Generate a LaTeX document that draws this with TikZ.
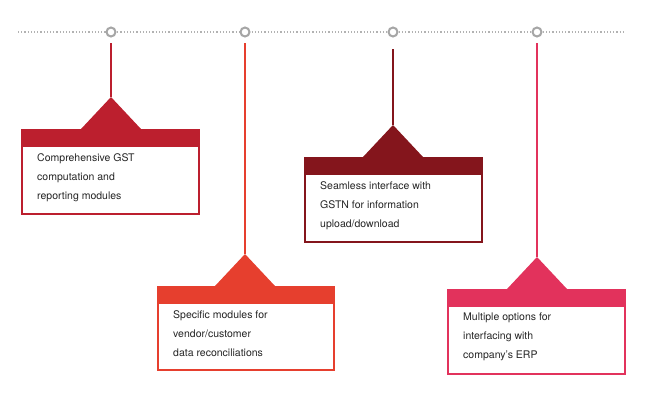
\documentclass[tikz,border=0pt]{standalone}
\usepackage{fontspec}
\setmainfont{TeX Gyre Heros}
\begin{document}
\begin{tikzpicture}[x=1pt,y=-1pt,
  dot/.style={circle,draw=gray!70,line width=2pt,fill=white,minimum size=9pt,inner sep=0pt},
  txt/.style={anchor=north west,align=left,font=\fontsize{10.5}{19}\selectfont,text=black!85,inner sep=0pt},
  stem/.style={line width=2.5pt}]
\useasboundingbox (0,0) rectangle (655,405);
\definecolor{cA}{HTML}{BC1F2E}
\definecolor{cB}{HTML}{E63F2E}
\definecolor{cC}{HTML}{84151C}
\definecolor{cD}{HTML}{E2325C}
\draw[gray!60,line width=1.6pt,dash pattern=on 1.2pt off 2pt] (18,32) -- (625,32);
\node[dot] (d1) at (111,32) {};
\node[dot] (d2) at (245,32) {};
\node[dot] (d3) at (393,32) {};
\node[dot] (d4) at (537,32) {};
% generic box
\newcommand{\infobox}[9]{%
  % #1 name, #2 color, #3 x-left, #4 x-right, #5 bar top, #6 box bottom, #7 stem x, #8 stem top, #9 text
  \coordinate (#1apex) at (#7,#5-32);
  \draw[stem,#2] (#7,#8) -- (#1apex);
  \fill[#2] (#1apex) -- (#7-30,#5) -- (#7+30,#5) -- cycle;
  \fill[#2] (#3,#5) rectangle (#4,#5+17);
  \draw[#2,line width=1.6pt,fill=white] (#3+1,#5+17) rectangle (#4-1,#6);
  \node[txt] (#1) at (#3+16,#5+24) {#9};
}
\infobox{b1}{cA}{21}{200}{129}{214}{111}{43}{Comprehensive GST\\computation and\\reporting modules}
\infobox{b2}{cB}{157}{335}{286}{370}{245}{43}{Specific modules for\\vendor/customer\\data reconciliations}
\infobox{b3}{cC}{304}{483}{157}{242}{393}{49}{Seamless interface with\\GSTN for information\\upload/download}
\infobox{b4}{cD}{447}{626}{289}{374}{537}{43}{Multiple options for\\interfacing with\\company’s ERP}
\end{tikzpicture}
\end{document}
